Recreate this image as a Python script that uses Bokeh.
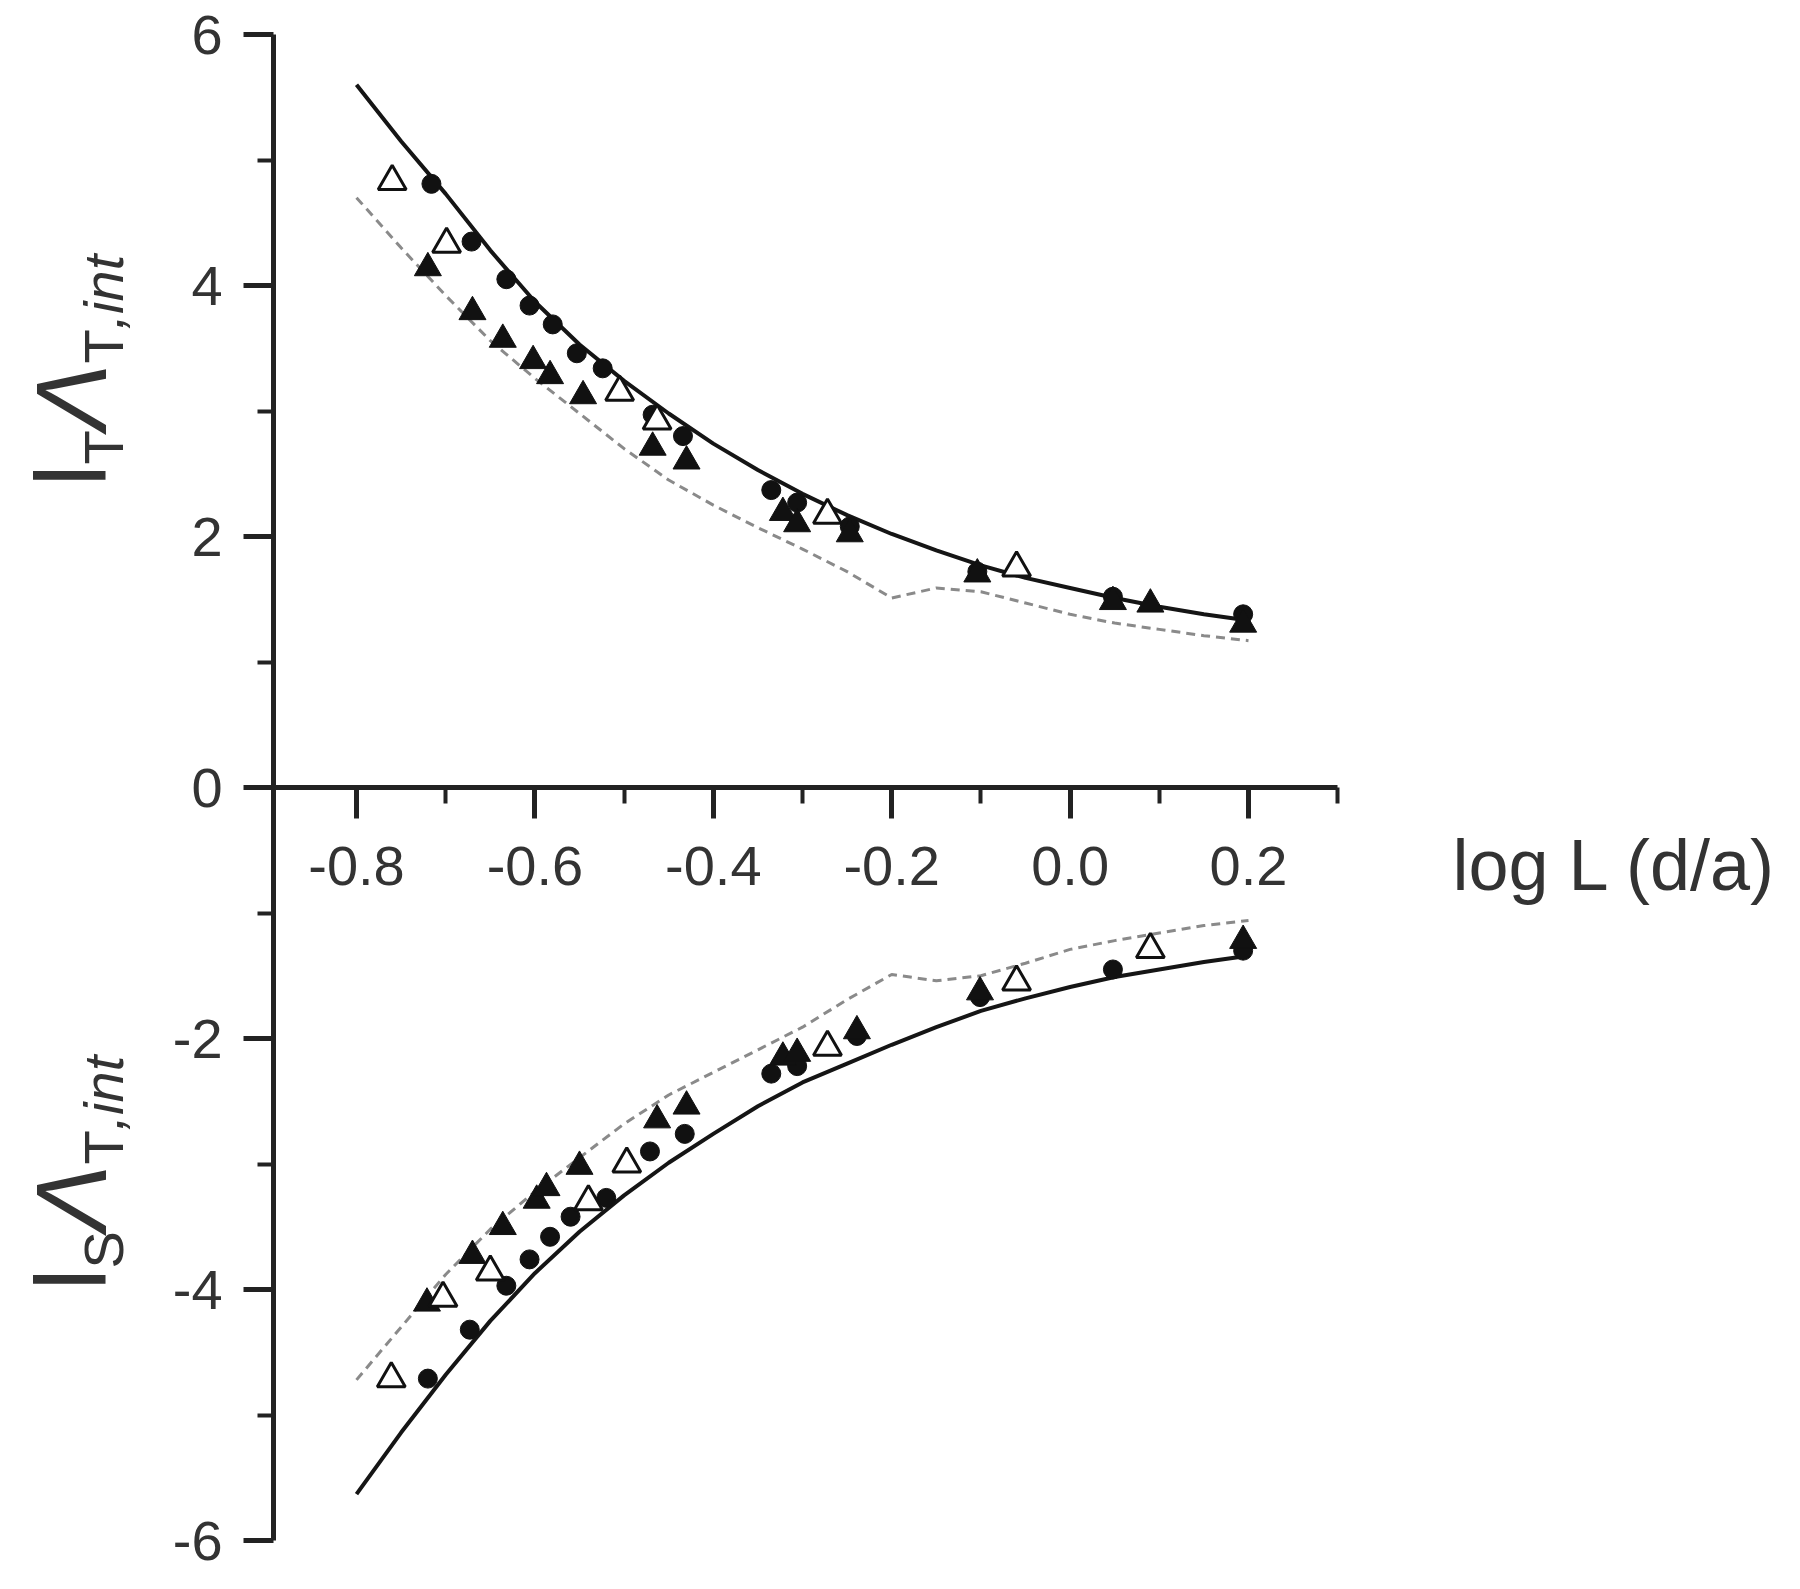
import math
from bokeh.plotting import figure
from bokeh.models import FixedTicker, PrintfTickFormatter, Range1d
from bokeh.core.properties import value
from bokeh.embed import file_html
from bokeh.resources import INLINE

# ---------------- data ----------------
x_theory = [-0.8, -0.75, -0.7, -0.65, -0.6, -0.55, -0.5, -0.45, -0.4, -0.35, -0.3,
            -0.25, -0.2, -0.15, -0.1, -0.05, 0.0, 0.05, 0.1, 0.15, 0.2]
upper_solid = [5.60, 5.15, 4.73, 4.28, 3.87, 3.53, 3.24, 2.98, 2.74, 2.53, 2.34,
               2.17, 2.02, 1.89, 1.77, 1.67, 1.59, 1.51, 1.44, 1.38, 1.33]
upper_dashed = [4.70, 4.30, 3.92, 3.56, 3.26, 2.98, 2.70, 2.45, 2.25, 2.07, 1.90,
                1.72, 1.51, 1.59, 1.56, 1.47, 1.38, 1.31, 1.26, 1.21, 1.17]
lower_solid = [-5.63, -5.14, -4.68, -4.25, -3.87, -3.54, -3.25, -2.99, -2.76, -2.54, -2.35,
               -2.20, -2.05, -1.91, -1.78, -1.68, -1.59, -1.51, -1.45, -1.39, -1.34]
lower_dashed = [-4.72, -4.30, -3.88, -3.52, -3.22, -2.95, -2.68, -2.45, -2.27, -2.09, -1.91,
                -1.69, -1.49, -1.54, -1.50, -1.40, -1.29, -1.22, -1.16, -1.10, -1.06]

up_circ_x = [-0.716, -0.671, -0.632, -0.606, -0.580, -0.553, -0.524, -0.468, -0.434,
             -0.335, -0.306, -0.247, -0.104, 0.048, 0.194]
up_circ_y = [4.81, 4.35, 4.05, 3.84, 3.69, 3.46, 3.34, 2.97, 2.80, 2.37, 2.27, 2.08, 1.72, 1.52, 1.38]
up_tri_x = [-0.720, -0.670, -0.636, -0.602, -0.583, -0.546, -0.468, -0.430, -0.322, -0.306,
            -0.247, -0.104, 0.048, 0.090, 0.194]
up_tri_y = [4.14, 3.79, 3.57, 3.40, 3.28, 3.12, 2.71, 2.60, 2.19, 2.10, 2.02, 1.70, 1.48, 1.46, 1.30]
up_open_x = [-0.760, -0.699, -0.505, -0.463, -0.272, -0.060]
up_open_y = [4.83, 4.33, 3.15, 2.92, 2.17, 1.75]

lo_circ_x = [-0.720, -0.673, -0.632, -0.606, -0.583, -0.560, -0.520, -0.471, -0.432,
             -0.335, -0.306, -0.239, -0.101, 0.048, 0.194]
lo_circ_y = [-4.71, -4.32, -3.97, -3.76, -3.58, -3.42, -3.27, -2.90, -2.76, -2.28, -2.22,
             -1.98, -1.67, -1.45, -1.30]
lo_tri_x = [-0.721, -0.670, -0.636, -0.598, -0.587, -0.550, -0.463, -0.430, -0.322, -0.306,
            -0.239, -0.101, 0.194]
lo_tri_y = [-4.11, -3.73, -3.50, -3.29, -3.19, -3.02, -2.65, -2.54, -2.15, -2.12, -1.94, -1.63, -1.22]
lo_open_x = [-0.761, -0.703, -0.650, -0.540, -0.497, -0.272, -0.060, 0.090]
lo_open_y = [-4.71, -4.07, -3.86, -3.30, -3.00, -2.07, -1.55, -1.29]

x_ticks = [-0.8, -0.6, -0.4, -0.2, 0.0, 0.2]
x_tick_labels = ["-0.8", "-0.6", "-0.4", "-0.2", "0.0", "0.2"]
x_minor = [-0.7, -0.5, -0.3, -0.1, 0.1, 0.3]
y_ticks = [-6, -4, -2, 0, 2, 4, 6]
y_tick_labels = ["-6", "-4", "-2", "0", "2", "4", "6"]
y_minor = [-5, -3, -1, 1, 3, 5]
x_label = "log L (d/a)"

# ---------------- layout ----------------
W, H = 1784, 1573
PX0, SX = 356.0, 892.0     # pixel of x=-0.8, px per unit
PY0, SY = 787.0, 125.5     # pixel of y=0, px per unit
X_AXIS_START = -0.893
x0 = -0.8 - PX0 / SX
x1 = -0.8 + (W - PX0) / SX
y1 = PY0 / SY
y0 = (PY0 - H) / SY

def dx(px):
    return -0.8 + (px - PX0) / SX

def dy(py):
    return (PY0 - py) / SY

p = figure(width=W, height=H, x_range=Range1d(x0, x1), y_range=Range1d(y0, y1),
           output_backend="svg", toolbar_location=None, min_border=0,
           min_border_left=0, min_border_right=0, min_border_top=0, min_border_bottom=0)
p.outline_line_color = None
p.xgrid.visible = False
p.ygrid.visible = False
p.background_fill_color = "white"

AX = "#222222"
TXT = "#333333"
FONT = "Liberation Sans"

xa = p.xaxis[0]
xa.fixed_location = 0
xa.bounds = (X_AXIS_START, 0.3)
xa.ticker = FixedTicker(ticks=x_ticks, minor_ticks=x_minor)
xa.formatter = PrintfTickFormatter(format="%.1f")
xa.major_label_overrides = {t: l for t, l in zip(x_ticks, x_tick_labels)}
xa.major_tick_out = 31
xa.minor_tick_out = 16
xa.major_label_standoff = 28

ya = p.yaxis[0]
ya.fixed_location = X_AXIS_START
ya.bounds = (-6, 6)
ya.ticker = FixedTicker(ticks=y_ticks, minor_ticks=y_minor)
ya.formatter = PrintfTickFormatter(format="%d")
ya.major_label_overrides = {t: l for t, l in zip(y_ticks, y_tick_labels)}
ya.major_tick_out = 30
ya.minor_tick_out = 16
ya.major_label_standoff = 21

for ax in (xa, ya):
    ax.axis_line_width = 5
    ax.axis_line_color = AX
    ax.major_tick_line_width = 5
    ax.minor_tick_line_width = 4
    ax.major_tick_line_color = AX
    ax.minor_tick_line_color = AX
    ax.major_tick_in = 0
    ax.minor_tick_in = 0
    ax.major_label_text_font = FONT
    ax.major_label_text_font_size = "56px"
    ax.major_label_text_color = TXT
    ax.axis_label = None

# ---------------- curves ----------------
p.line(x_theory, upper_dashed, line_color="#8a8a8a", line_width=3, line_dash="9 6")
p.line(x_theory, lower_dashed, line_color="#8a8a8a", line_width=3, line_dash="9 6")
p.line(x_theory, upper_solid, line_color="#151515", line_width=4)
p.line(x_theory, lower_solid, line_color="#151515", line_width=4)

# ---------------- markers ----------------
for xs, ys in ((up_circ_x, up_circ_y), (lo_circ_x, lo_circ_y)):
    p.scatter(xs, ys, marker="circle", size=19, fill_color="#111111", line_color="#111111")
for xs, ys in ((up_tri_x, up_tri_y), (lo_tri_x, lo_tri_y)):
    p.scatter(xs, ys, marker="triangle", size=27, fill_color="#111111", line_color="#111111")
for xs, ys in ((up_open_x, up_open_y), (lo_open_x, lo_open_y)):
    p.scatter(xs, ys, marker="triangle", size=28, fill_color="white", line_color="#111111",
              line_width=3)

# ---------------- texts ----------------
p.text([dx(1452)], [dy(864)], text=[x_label], text_font=value(FONT),
       text_font_size="72px", text_color=TXT, text_align="left", text_baseline="alphabetic")

label_pieces = [
    # text, baseline x (px), anchor y (px), size, style
    ("l", 70, 486, 100, "normal"), ("T", 103, 464, 56, "normal"),
    ("\u039b", 70, 430, 100, "italic"), ("T", 103, 363, 56, "normal"),
    (",int", 103, 329, 56, "italic"),
    ("l", 70, 1290, 100, "normal"), ("S", 103, 1268, 56, "normal"),
    ("\u039b", 70, 1231, 100, "italic"), ("T", 103, 1164, 56, "normal"),
    (",int", 103, 1130, 56, "italic"),
]
for t, bx, ay, sz, st in label_pieces:
    p.text([dx(bx)], [dy(ay)], text=[t], angle=math.pi / 2, text_font=value(FONT),
           text_font_size=f"{sz}px", text_font_style=st, text_color=TXT,
           text_align="left", text_baseline="alphabetic")

open("out.html", "w").write(file_html(p, INLINE))
